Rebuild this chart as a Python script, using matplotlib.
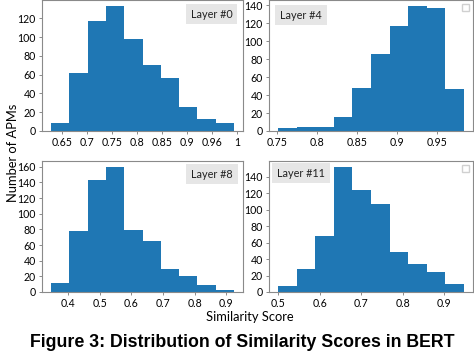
import numpy as np
import matplotlib
matplotlib.use('Agg')
import matplotlib.pyplot as plt

# histogram counts (10 bins per layer)
layer0_counts = [8, 62, 117, 133, 98, 70, 57, 26, 13, 8]
layer4_counts = [3, 5, 5, 16, 48, 86, 117, 139, 137, 47]
layer8_counts = [12, 78, 143, 160, 79, 65, 29, 21, 9, 2]
layer11_counts = [7, 28, 68, 152, 124, 107, 48, 34, 24, 10]

# range of similarity scores covered by the bins
layer0_range = (0.629, 0.994)
layer4_range = (0.7513, 0.9837)
layer8_range = (0.346, 0.924)
layer11_range = (0.500, 0.947)

layer0_ticks = [0.65, 0.7, 0.75, 0.8, 0.85, 0.9, 0.95, 1.0]
layer0_ticklabels = ['0.65', '0.7', '0.75', '0.8', '0.85', '0.9', '0.96', '1']
layer4_ticks = [0.75, 0.8, 0.85, 0.9, 0.95]
layer4_ticklabels = ['0.75', '0.8', '0.85', '0.9', '0.95']
layer8_ticks = [0.4, 0.5, 0.6, 0.7, 0.8, 0.9]
layer8_ticklabels = ['0.4', '0.5', '0.6', '0.7', '0.8', '0.9']
layer11_ticks = [0.5, 0.6, 0.7, 0.8, 0.9]
layer11_ticklabels = ['0.5', '0.6', '0.7', '0.8', '0.9']

FONT = ['Lato', 'DejaVu Sans']
plt.rcParams['font.family'] = FONT

fig = plt.figure(figsize=(4.74, 3.51), dpi=100)

panels = [
    ([0.0886, 0.6268, 0.4241, 0.3732], layer0_counts, layer0_range, 'Layer #0', (0.843, 0.893), False),
    ([0.5675, 0.6268, 0.4304, 0.3732], layer4_counts, layer4_range, 'Layer #4', (0.157, 0.885), True),
    ([0.0886, 0.1681, 0.4241, 0.3746], layer8_counts, layer8_range, 'Layer #8', (0.846, 0.897), False),
    ([0.5675, 0.1681, 0.4304, 0.3746], layer11_counts, layer11_range, 'Layer #11', (0.158, 0.905), True),
]
tick_sets = [
    (layer0_ticks, layer0_ticklabels),
    (layer4_ticks, layer4_ticklabels),
    (layer8_ticks, layer8_ticklabels),
    (layer11_ticks, layer11_ticklabels),
]

for (rect, counts, rng, name, pos, empty_legend), (ticks, labels) in zip(panels, tick_sets):
    ax = fig.add_axes(rect)
    edges = np.linspace(rng[0], rng[1], len(counts) + 1)
    ax.hist(edges[:-1], bins=edges, weights=counts, color='#1f77b4')
    ax.set_yticks(np.arange(0, 161, 20))
    ax.set_ylim(0, max(counts) * 1.05)
    ax.set_xticks(ticks)
    ax.set_xticklabels(labels)
    ax.tick_params(labelsize=7.6, length=2.5, width=0.6, color='#777777', pad=2)
    for sp in ax.spines.values():
        sp.set_color('#8a8a8a')
        sp.set_linewidth(0.8)
    ax.text(pos[0], pos[1], name, transform=ax.transAxes, ha='center', va='center',
            fontsize=7.8, color='#222222',
            bbox=dict(boxstyle='square,pad=0.45', facecolor='#e6e6e6', edgecolor='none'))
    if empty_legend:
        # the source figure shows a tiny empty legend frame in this corner
        ax.legend(handles=[], loc='upper right', borderpad=0.25, borderaxespad=0.3,
                  edgecolor='#d0d0d0', framealpha=1, fancybox=False)

fig.text(0.027, 0.565, 'Number of APMs', rotation=90, ha='center', va='center', fontsize=9.3)
fig.text(0.527, 0.098, 'Similarity Score', ha='center', va='center', fontsize=9.3)
fig.text(242 / 474, 4.2 / 351, 'Figure 3: Distribution of Similarity Scores in BERT',
         ha='center', va='baseline', fontsize=12.8, fontweight='bold',
         family=['Liberation Sans', 'DejaVu Sans'])

fig.savefig('out.png', dpi=100)
